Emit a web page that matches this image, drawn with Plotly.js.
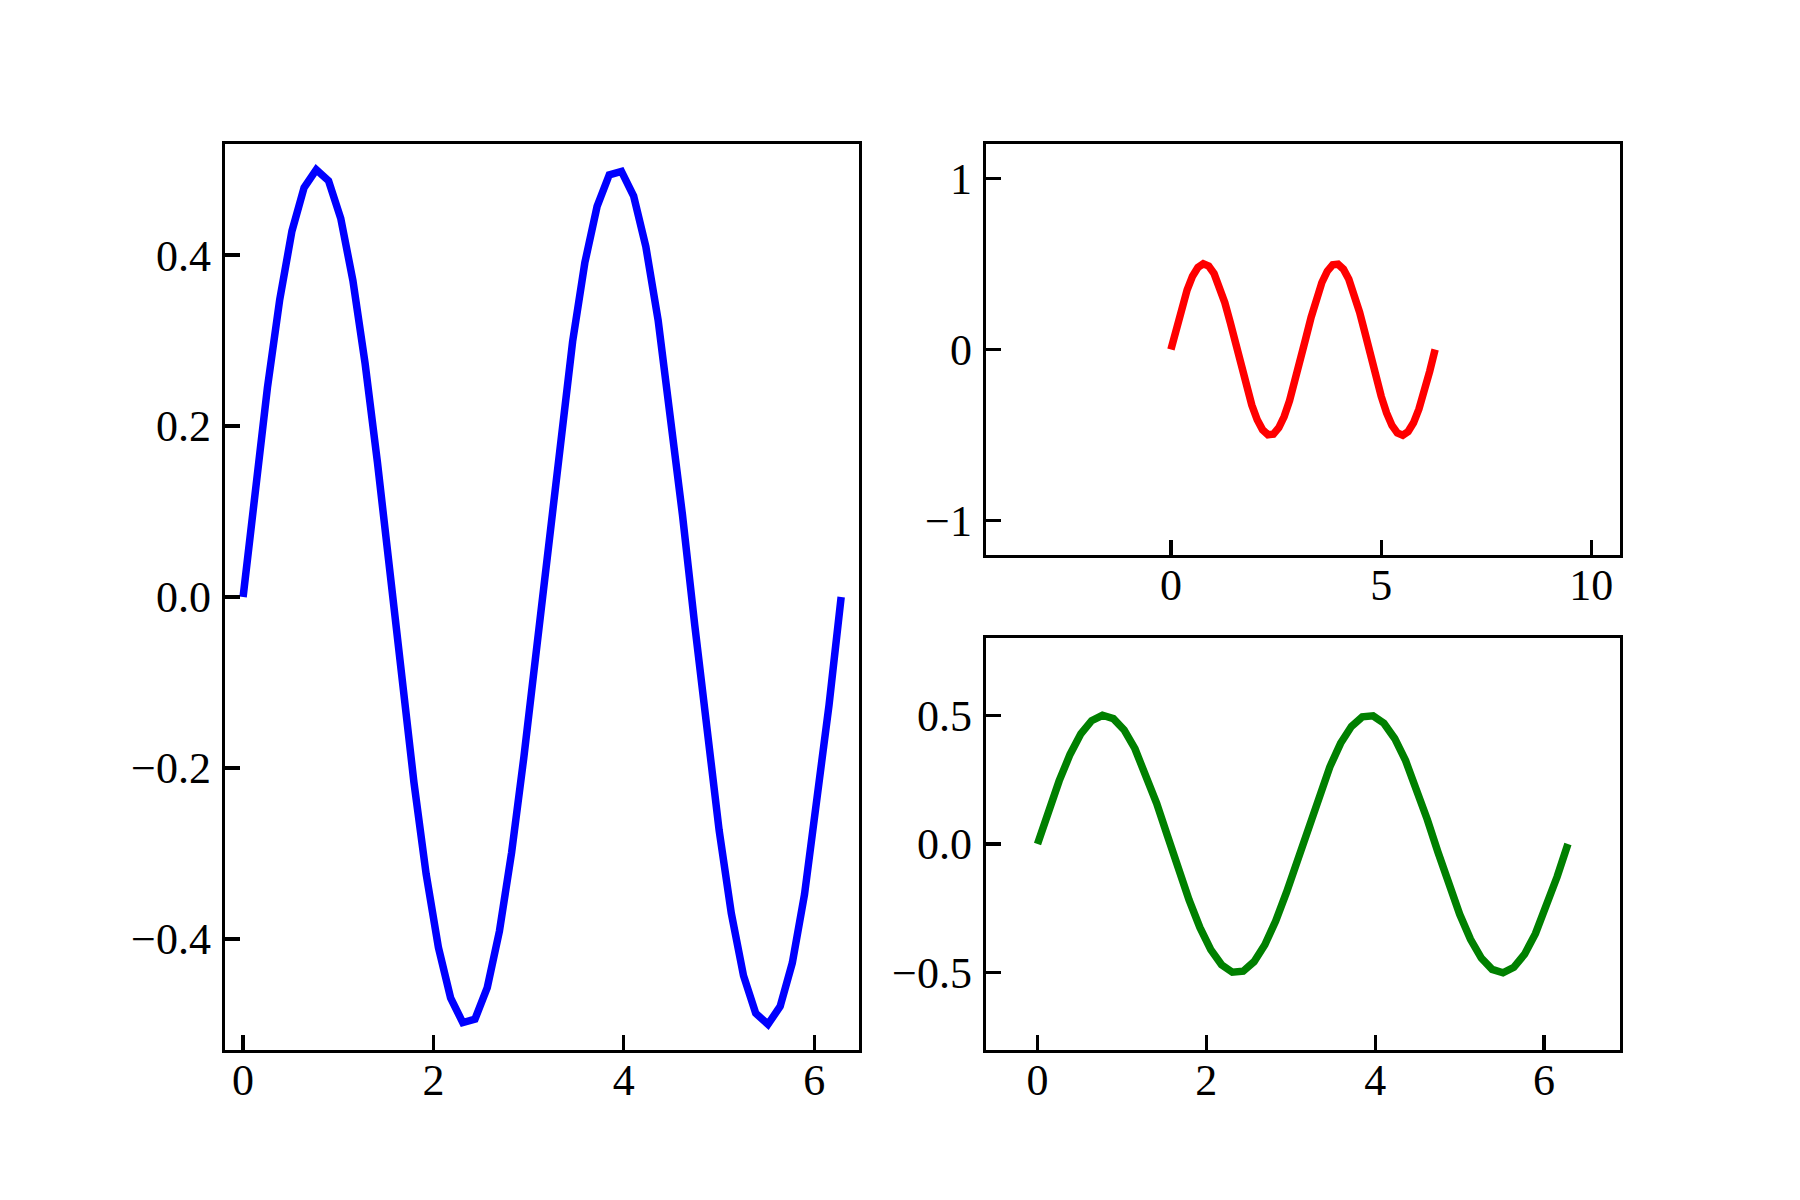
<!DOCTYPE html>
<html>
<head>
<meta charset="utf-8">
<script src="https://cdn.plot.ly/plotly-3.0.1.min.js"></script>
<style>
  body { margin: 0; background: #fff; }
  #fig { width: 1800px; height: 1200px; }
</style>
</head>
<body>
<div id="fig"></div>
<script>
// sample positions (50 points over 0..2pi)
var xs = [0, 0.128, 0.256, 0.385, 0.513, 0.641, 0.769, 0.898, 1.026, 1.154,
          1.282, 1.411, 1.539, 1.667, 1.795, 1.923, 2.052, 2.180, 2.308, 2.436,
          2.565, 2.693, 2.821, 2.949, 3.077, 3.206, 3.334, 3.462, 3.590, 3.719,
          3.847, 3.975, 4.103, 4.231, 4.360, 4.488, 4.616, 4.744, 4.872, 5.001,
          5.129, 5.257, 5.385, 5.514, 5.642, 5.770, 5.898, 6.026, 6.155, 6.283];

// the same wave is drawn in all three panels
var wave = [0, 0.127, 0.245, 0.348, 0.428, 0.479, 0.500, 0.487, 0.443, 0.370,
            0.273, 0.158, 0.032, -0.096, -0.217, -0.324, -0.410, -0.469, -0.498, -0.494,
            -0.457, -0.391, -0.299, -0.188, -0.064, 0.064, 0.188, 0.299, 0.391, 0.457,
            0.494, 0.498, 0.469, 0.410, 0.324, 0.217, 0.096, -0.032, -0.158, -0.273,
            -0.370, -0.443, -0.487, -0.500, -0.479, -0.428, -0.348, -0.245, -0.127, 0];

var leftYTicks = [-0.4, -0.2, 0, 0.2, 0.4];
var redYTicks = [-1, 0, 1];
var greenYTicks = [-0.5, 0, 0.5];

var config = { displayModeBar: false, displaylogo: false, staticPlot: true };

var lw = 7.5;
var data = [
    { x: xs, y: wave, type: 'scatter', mode: 'lines', line: { color: '#0000ff', width: lw },
      xaxis: 'x', yaxis: 'y' },
    { x: xs, y: wave, type: 'scatter', mode: 'lines', line: { color: '#ff0000', width: lw },
      xaxis: 'x2', yaxis: 'y2' },
    { x: xs, y: wave, type: 'scatter', mode: 'lines', line: { color: '#008000', width: lw },
      xaxis: 'x3', yaxis: 'y3' }
];

function ax(extra) {
    var base = {
        showline: true, mirror: true, linecolor: '#000', linewidth: 3.3,
        ticks: 'inside', ticklen: 14.6, tickwidth: 3.3, tickcolor: '#000',
        showgrid: false, zeroline: false,
        tickfont: { family: 'Liberation Serif, serif', size: 44, color: '#000' }
    };
    for (var k in extra) base[k] = extra[k];
    return base;
}

var layout = {
    width: 1800, height: 1200,
    margin: { l: 0, r: 0, t: 0, b: 0 },
    paper_bgcolor: '#fff', plot_bgcolor: '#fff',
    showlegend: false,
    xaxis: ax({ domain: [0.125, 0.4772], anchor: 'y', range: [-0.19, 6.47], dtick: 2, tick0: 0,
                ticklabelstandoff: -11 }),
    yaxis: ax({ domain: [0.125, 0.88], anchor: 'x', range: [-0.53, 0.53],
                tickvals: leftYTicks, tickformat: '.1f', ticklabelstandoff: 2 }),
    xaxis2: ax({ domain: [0.5478, 0.9], anchor: 'y2', range: [-4.398, 10.681], dtick: 5, tick0: 0,
                 ticklabelstandoff: -11 }),
    yaxis2: ax({ domain: [0.5375, 0.88], anchor: 'x2', range: [-1.1993, 1.1993],
                 tickvals: redYTicks, ticklabelstandoff: 2 }),
    xaxis3: ax({ domain: [0.5478, 0.9], anchor: 'y3', range: [-0.61, 6.9], dtick: 2, tick0: 0,
                 ticklabelstandoff: -11 }),
    yaxis3: ax({ domain: [0.125, 0.4683], anchor: 'x3', range: [-0.8, 0.8],
                 tickvals: greenYTicks, tickformat: '.1f', ticklabelstandoff: 2 })
};

Plotly.newPlot('fig', data, layout, config);
</script>
</body>
</html>
